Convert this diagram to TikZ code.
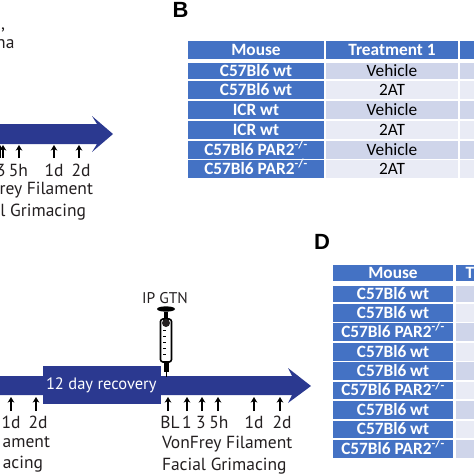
\documentclass[tikz,border=0pt]{standalone}
\usepackage{fontspec}
\setmainfont{PT Sans}
\newfontfamily\tblfont{Carlito}
\newfontfamily\panelfont{Liberation Sans}
\usetikzlibrary{arrows.meta, positioning}
\definecolor{barblue}{RGB}{43,57,144}
\definecolor{tblblue}{RGB}{68,114,196}
\definecolor{tbldark}{RGB}{207,213,234}
\definecolor{tbllight}{RGB}{233,235,245}
\definecolor{inkgray}{RGB}{35,31,32}

\begin{document}
\begin{tikzpicture}[
    x=1pt, y=-1pt,
    every node/.style={inner sep=0pt, outer sep=0pt, text=inkgray},
    lbl/.style={font=\fontsize{17.5}{17.5}\selectfont, anchor=base},
    lblr/.style={font=\fontsize{17.5}{17.5}\selectfont, anchor=base east},
    lbll/.style={font=\fontsize{17.5}{17.5}\selectfont, anchor=base west},
    panel/.style={font=\panelfont\bfseries\fontsize{22}{22}\selectfont, text=black, anchor=base west},
    cell/.style={anchor=north west, text depth=0pt, text height=10.5pt, align=center,
                 font=\tblfont\fontsize{17.3}{17.3}\selectfont, text=black},
    mouse/.style={cell, fill=tblblue, text=white, font=\tblfont\bfseries\fontsize{17.3}{17.3}\selectfont},
    tick/.style={-{Stealth[length=5.5pt,width=6.5pt,inset=1.5pt]}, line width=1.2pt, draw=black},
    bar/.style={fill=barblue, draw=none}
  ]
    \useasboundingbox (0,0) rectangle (474,474);
    \clip (0,0) rectangle (474,474);
    \fill[white] (0,0) rectangle (474,474);

    % panel A
    \node[lblr] (noteone) at (5,29) {n,};
    \node[lblr] (notetwo) at (14.5,48) {na};
    \fill[bar] (0,124) -- (97,124) -- (92,116) -- (113,134) -- (92,152) -- (97,144) -- (0,144) -- cycle;
    \foreach \n/\x in {one/0,three/3,five/19,oned/54,twod/79} {
      \coordinate (tipa\n) at (\x,145);
      \coordinate (basea\n) at (\x,158);
      \draw[tick] (basea\n) -- (tipa\n);
    }
    \node[lbl] (tthree) at (1,176) {3};
    \node[lbl] (tfive)  at (18.5,176) {5h};
    \node[lbl] (toned)  at (54,176) {1d};
    \node[lbl] (ttwod)  at (81,176) {2d};
    \node[lblr] (filamenta) at (93,194) {rey Filament};
    \node[lblr] (grimacea)  at (86,216) {l Grimacing};

    % panel C
    \fill[bar] (0,376) -- (292,376) -- (288,368) -- (311,386) -- (288,403) -- (292,395) -- (0,395) -- cycle;
    \node[fill=barblue, minimum width=118pt, minimum height=38pt, anchor=north west] (recovery) at (43,366) {};
    \node[anchor=base west, text=white, font=\fontsize{16.5}{16.5}\selectfont] (recoverytxt) at (46,389) {12 day recovery};
    \foreach \n/\x in {oned/11,twod/36,bl/168,one/187,three/202,five/218,onedb/254,twodb/280} {
      \coordinate (tipc\n) at (\x,397);
      \coordinate (basec\n) at (\x,411);
      \draw[tick] (basec\n) -- (tipc\n);
    }
    \node[lbl] at (11,428) (loned) {1d};
    \node[lbl] at (38,428) (ltwod) {2d};
    \node[lbl] at (170,428) (lbl) {BL};
    \node[lbl] at (187,428) (lone) {1};
    \node[lbl] at (201,428) (lthree) {3};
    \node[lbl] at (219,428) (lfive) {5h};
    \node[lbl] at (254,428) (lonedb) {1d};
    \node[lbl] at (282,428) (ltwodb) {2d};
    \node[lblr] (filamentl) at (50,447) {ament};
    \node[lblr] (grimacel)  at (43,468) {acing};
    \node[lbll] (filamentc) at (162,448) {VonFrey Filament};
    \node[lbll] (grimacec)  at (162,470) {Facial Grimacing};

    % syringe
    \node[lbl, font=\fontsize{15.5}{15.5}\selectfont] (gtn) at (165,303) {IP GTN};
    \draw[line width=1.6pt, draw=black, rounded corners=2.5pt, fill=white] (160.5,319) rectangle (171.5,362);
    \fill[black] (157,309) .. controls (157,305.5) and (175,305.5) .. (175,309)
      .. controls (175,312.5) and (157,312.5) .. (157,309) -- cycle;
    \fill[black] (164,312) rectangle (168,318);
    \fill[inkgray] (166,323) circle (4pt);
    \foreach \y in {330,336,342,348,354} \draw[line width=0.8pt] (163,\y) -- (165.5,\y);
    \fill[black] (163.5,362) rectangle (168.5,372);
    \draw[line width=1pt] (166,372) -- (166,377);

    % panel B
    \node[panel] (labb) at (172.5,17) {B};
    \node[mouse, minimum width=136pt, minimum height=17.5pt] (bhead) at (188,41) {Mouse};
    \node[mouse, minimum width=132pt, minimum height=17.5pt] (bhead2) at (326,41) {Treatment 1};
    \node[mouse, minimum width=20pt, minimum height=17.5pt] (bhead3) at (460,41) {};
    \foreach \i/\y/\h/\m/\t/\c in {1/63/16/C57Bl6 wt/Vehicle/tbldark,
                                   2/81/18/C57Bl6 wt/2AT/tbllight,
                                   3/101/18/ICR wt/Vehicle/tbldark,
                                   4/121/18/ICR wt/2AT/tbllight,
                                   5/141/18/C57Bl6 PAR2\textsuperscript{-/-}/Vehicle/tbldark,
                                   6/160/18/C57Bl6 PAR2\textsuperscript{-/-}/2AT/tbllight} {
      \node[mouse, minimum width=136pt, minimum height=\h pt] (bm\i) at (188,\y) {\m};
      \node[cell, fill=\c, minimum width=132pt, minimum height=\h pt] (bt\i) at (326,\y) {\t};
      \node[cell, fill=\c, minimum width=20pt, minimum height=\h pt] (bx\i) at (460,\y) {};
    }

    % panel D
    \node[panel] (labd) at (314,249) {D};
    \node[mouse, minimum width=120pt, minimum height=16pt] (dhead) at (333,265) {Mouse};
    \node[mouse, minimum width=28pt, minimum height=16pt] (dhead2) at (456,265) {T};
    \foreach \i/\y/\h/\m/\c in {1/286/16/C57Bl6 wt/tbldark,
                                2/304/17.5/C57Bl6 wt/tbllight,
                                3/323/18/C57Bl6 PAR2\textsuperscript{-/-}/tbldark,
                                4/343/18/C57Bl6 wt/tbllight,
                                5/362/18/C57Bl6 wt/tbldark,
                                6/382/17/C57Bl6 PAR2\textsuperscript{-/-}/tbllight,
                                7/401/18/C57Bl6 wt/tbldark,
                                8/421/17/C57Bl6 wt/tbllight,
                                9/440/18/C57Bl6 PAR2\textsuperscript{-/-}/tbldark} {
      \node[mouse, minimum width=120pt, minimum height=\h pt] (dm\i) at (333,\y) {\m};
      \node[cell, fill=\c, minimum width=20pt, minimum height=\h pt] (dt\i) at (456,\y) {};
    }
  \end{tikzpicture}
\end{document}
